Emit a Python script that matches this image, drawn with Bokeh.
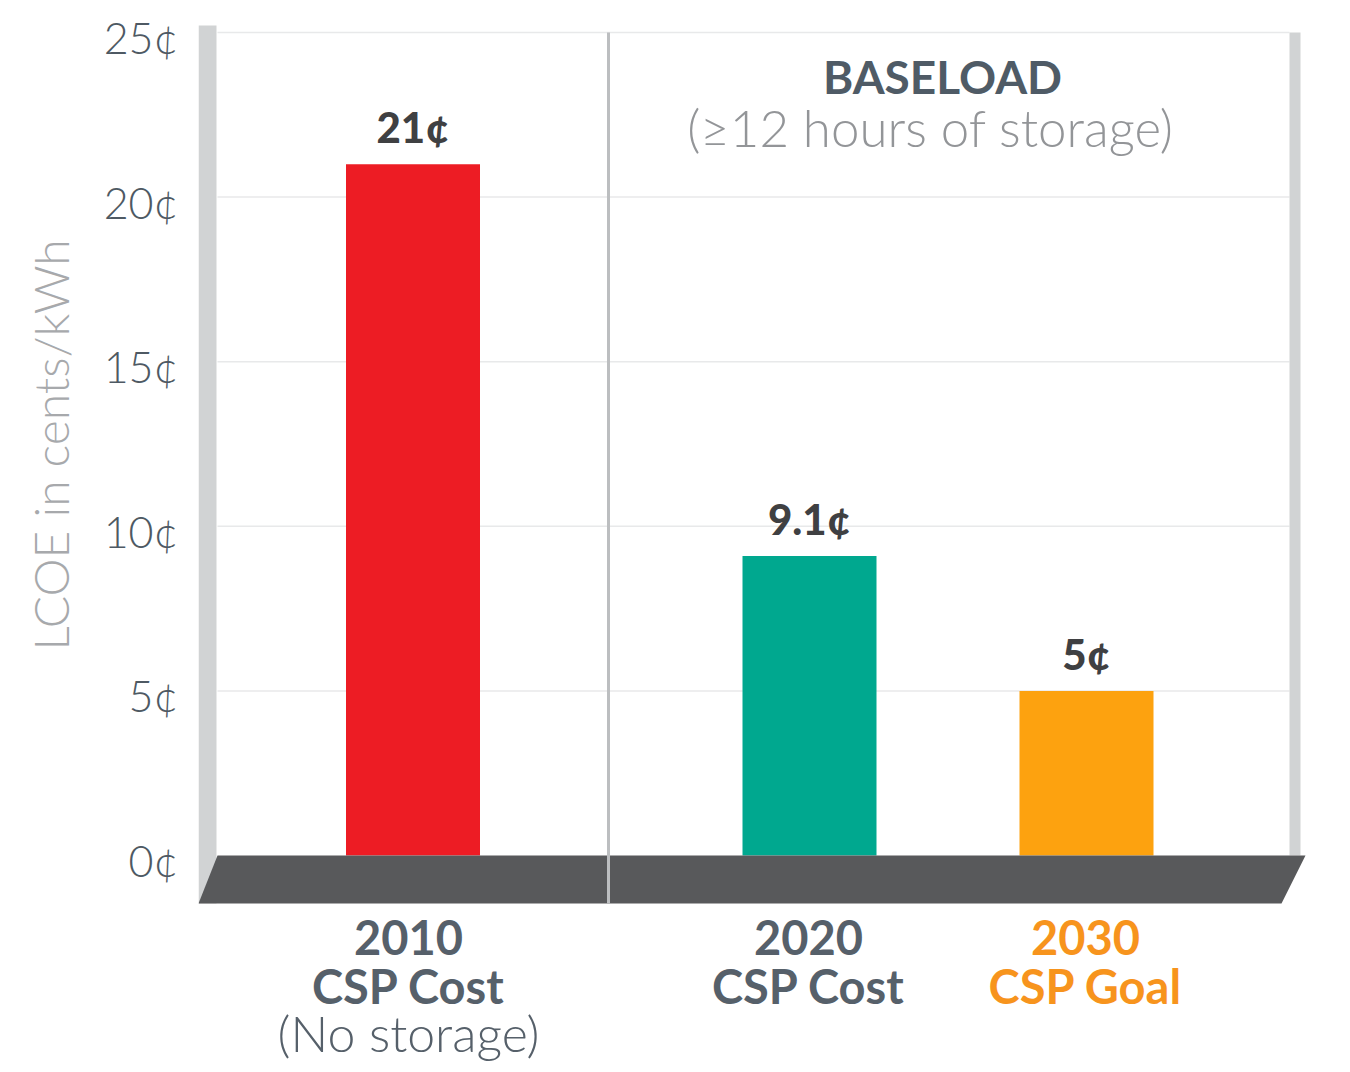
from bokeh.core.properties import value
from bokeh.embed import file_html
from bokeh.models import FixedTicker, LinearAxis, Range1d, Title
from bokeh.plotting import figure
from bokeh.resources import INLINE

# ---- data -------------------------------------------------------------
years = ["2010", "2020", "2030"]
kinds = ["CSP Cost", "CSP Cost", "CSP Goal"]
notes = ["(No storage)", "", ""]
lcoe = [21.0, 9.1, 5.0]                      # cents per kWh
value_labels = ["21¢", "9.1¢", "5¢"]
bar_colors = ["#ed1c24", "#00a88f", "#fda20f"]
label_colors = ["#56606a", "#56606a", "#f7941d"]
y_ticks = [0, 5, 10, 15, 20, 25]
tick_labels = [f"{t}¢" for t in y_ticks]
group_title = "BASELOAD"
group_note = "(≥12 hours of storage)"
y_title = "LCOE in cents/kWh"

# ---- layout helpers (screen pixels -> data units) ---------------------
W, H = 1350, 1072
LEFT = 198            # frame left edge
PX_X = 277.0          # pixels per x unit
PX_Y = 32.92          # pixels per cent
ZERO_ROW = 855        # screen row of the 0¢ line
X0 = 1.0 - (412.5 - LEFT) / PX_X


def sx(px):
    return X0 + (px - LEFT) / PX_X


def sy(py):
    return (ZERO_ROW - py) / PX_Y


x_pos = [sx(412.5), sx(809), sx(1086)]
label_x = [sx(408), sx(808), sx(1085)]
bar_w = 134 / PX_X

p = figure(
    width=W, height=H,
    x_range=Range1d(X0, sx(W)), y_range=Range1d(sy(H), sy(0)),
    x_axis_location=None, y_axis_location=None,
    min_border_left=LEFT, min_border_right=0,
    min_border_top=0, min_border_bottom=0,
    output_backend="svg", toolbar_location=None,
)
p.outline_line_color = None
p.xgrid.visible = False
p.ygrid.visible = False
p.background_fill_color = "white"
p.border_fill_color = "white"

LIGHT = "Lato Light"
BOLD = "Lato"
HEAVY = "Lato Black"

# tick labels sit a little below their grid lines
shift = 5 / PX_Y
p.extra_y_ranges = {"ticks": Range1d(sy(H) + shift, sy(0) + shift)}
yaxis = LinearAxis(y_range_name="ticks", ticker=FixedTicker(ticks=y_ticks))
yaxis.major_label_overrides = dict(zip(y_ticks, tick_labels))
yaxis.axis_line_color = None
yaxis.major_tick_line_color = None
yaxis.minor_tick_line_color = None
yaxis.major_tick_out = 0
yaxis.major_tick_in = 0
yaxis.minor_tick_out = 0
yaxis.major_label_standoff = 20
yaxis.major_label_text_font = LIGHT
yaxis.major_label_text_font_size = "43px"
yaxis.major_label_text_color = "#4e5963"
p.add_layout(yaxis, "left")

# vertical axis title, reading bottom to top
p.add_layout(Title(text=y_title, align="left", vertical_align="top",
                   offset=422, standoff=40,
                   text_font=LIGHT, text_font_size="48px",
                   text_font_style="normal", text_color="#a7a9ac"), "left")

# grid lines between the two walls
grid_vals = [t for t in y_ticks if t > 0]
p.segment(x0=[sx(217)] * len(grid_vals), x1=[sx(1289)] * len(grid_vals),
          y0=grid_vals, y1=grid_vals, line_color="#e8e9ea", line_width=1.5)

# side walls
p.quad(left=[sx(198)], right=[sx(216)], bottom=[sy(903)], top=[sy(25)],
       fill_color="#d1d3d4", line_color=None)
p.quad(left=[sx(1289)], right=[sx(1300)], bottom=[0], top=[sy(32)],
       fill_color="#d1d3d4", line_color=None)

# bars
p.vbar(x=x_pos, width=bar_w, bottom=0, top=lcoe,
       fill_color=bar_colors, line_color=None)

# floor slab
p.patch(x=[sx(217), sx(1305), sx(1281), sx(198)],
        y=[0, 0, sy(903), sy(903)],
        fill_color="#58595b", line_color=None)

# divider between the no-storage and baseload groups
p.segment(x0=[sx(608)], x1=[sx(608)], y0=[sy(32)], y1=[sy(903)],
          line_color="#bcbec0", line_width=3)

# value labels above bars
p.text(x=x_pos, y=[v + 37 / PX_Y for v in lcoe], text=value_labels,
       text_font=value(HEAVY), text_font_size="42px", text_color="#3f4042",
       text_align="center", text_baseline="middle")

# category labels under the floor
p.text(x=label_x, y=[sy(937)] * 3, text=years, text_color=label_colors,
       text_font=value(BOLD), text_font_style="bold", text_font_size="47px",
       text_align="center", text_baseline="middle")
p.text(x=label_x, y=[sy(985)] * 3, text=kinds, text_color=label_colors,
       text_font=value(BOLD), text_font_style="bold", text_font_size="47px",
       text_align="center", text_baseline="middle")
p.text(x=label_x, y=[sy(1032)] * 3, text=notes, text_color=label_colors,
       text_font=value(LIGHT), text_font_size="50px",
       text_align="center", text_baseline="middle")

# group heading
p.text(x=[sx(942)], y=[sy(76)], text=[group_title], text_color="#4f5b66",
       text_font=value(BOLD), text_font_style="bold", text_font_size="46px",
       text_align="center", text_baseline="middle")
p.text(x=[sx(930)], y=[sy(127)], text=[group_note], text_color="#939598",
       text_font=value(LIGHT), text_font_size="51px",
       text_align="center", text_baseline="middle")

open("out.html", "w").write(file_html(p, INLINE))
